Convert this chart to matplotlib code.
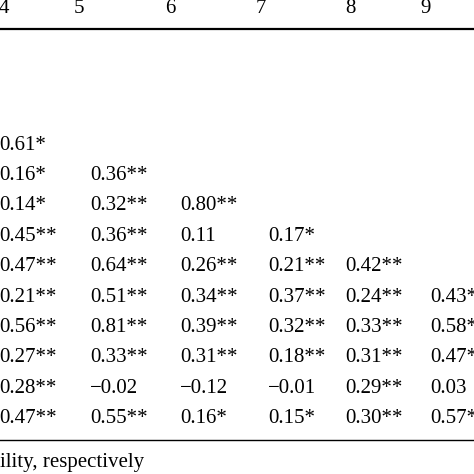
import matplotlib.pyplot as plt

headers = ['4', '5', '6', '7', '8', '9']
rows = [
    ['0.61*'],
    ['0.16*', '0.36**'],
    ['0.14*', '0.32**', '0.80**'],
    ['0.45**', '0.36**', '0.11', '0.17*'],
    ['0.47**', '0.64**', '0.26**', '0.21**', '0.42**'],
    ['0.21**', '0.51**', '0.34**', '0.37**', '0.24**', '0.43**'],
    ['0.56**', '0.81**', '0.39**', '0.32**', '0.33**', '0.58**'],
    ['0.27**', '0.33**', '0.31**', '0.18**', '0.31**', '0.47**'],
    ['0.28**', '\u22120.02', '\u22120.12', '\u22120.01', '0.29**', '0.03'],
    ['0.47**', '0.55**', '0.16*', '0.15*', '0.30**', '0.57**'],
]
footer = 'ility, respectively'

plt.rcParams['font.family'] = ['Liberation Serif', 'DejaVu Serif']
fig = plt.figure(figsize=(4.74, 4.74), dpi=100)
ax = fig.add_axes([0, 0, 1, 1])
ax.set_xlim(0, 474)
ax.set_ylim(474, 0)
ax.axis('off')

head_x = [-1, 74, 165, 256, 345, 420]
col_x = [-1, 90, 180, 268, 345, 430]
fs = 15

for x, h in zip(head_x, headers):
    ax.text(x, 8, h, fontsize=fs, va='center', ha='left')
ax.plot([0, 474], [29, 29], color='black', lw=1.6)

for i, r in enumerate(rows):
    y = 145 + i * 30.4
    for x, v in zip(col_x, r):
        ax.text(x, y, v, fontsize=fs, va='center', ha='left')

ax.plot([0, 474], [440, 440], color='black', lw=1.0)
ax.text(0, 463, footer, fontsize=fs, va='center', ha='left')

fig.savefig('out.png', dpi=100)
